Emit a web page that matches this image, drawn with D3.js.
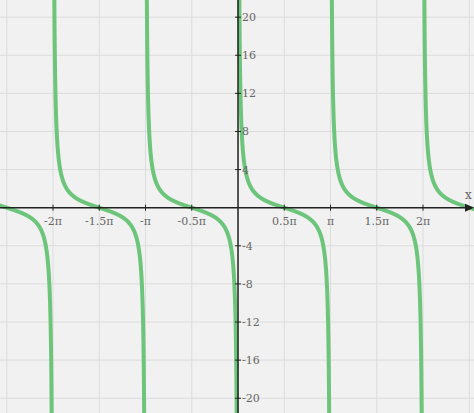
<!DOCTYPE html><html><head><meta charset="utf-8">
<script src="https://cdn.jsdelivr.net/npm/d3@7"></script>
<style>body{margin:0;background:#f1f1f1}svg{display:block}</style></head><body>
<svg id="c" width="474" height="413"></svg>
<script>
const xTicks=[-2,-1.5,-1,-0.5,0.5,1,1.5,2];
const xTickLabels=["-2π","-1.5π","-π","-0.5π","0.5π","π","1.5π","2π"];
const yTicks=[-20,-16,-12,-8,-4,4,8,12,16,20];
const branches=[-3,-2,-1,0,1,2]; // branch k spans (kπ, (k+1)π)
const W=474,H=413;
const x=d3.scaleLinear().domain([-2.573,2.551]).range([0,W]);
const y=d3.scaleLinear().domain([21.8,-21.55]).range([0,H]);
const svg=d3.select("#c");
svg.append("rect").attr("width",W).attr("height",H).attr("fill","#f1f1f1");
const g=svg.append("g");
// grid
d3.range(-2.5,2.51,0.5).forEach(v=>g.append("line").attr("x1",x(v)).attr("x2",x(v)).attr("y1",0).attr("y2",H).attr("stroke","#dcdcdc").attr("stroke-width",1));
d3.range(-20,21,4).forEach(v=>g.append("line").attr("y1",y(v)).attr("y2",y(v)).attr("x1",0).attr("x2",W).attr("stroke","#dcdcdc").attr("stroke-width",1));
// curves
const line=d3.line().x(d=>x(d[0])).y(d=>y(d[1]));
branches.forEach(k=>{
  const pts=[];
  for(let i=1;i<1000;i++){const t=k+i/1000;const v=1/Math.tan(t*Math.PI);
    if(v>23||v<-23)continue; if(t<-2.6||t>2.6)continue; pts.push([t,v]);}
  g.append("path").attr("d",line(pts)).attr("fill","none").attr("stroke","#6cc57a").attr("stroke-width",4);
});
// axes
g.append("line").attr("x1",0).attr("x2",W-6).attr("y1",y(0)).attr("y2",y(0)).attr("stroke","#222").attr("stroke-width",1.5);
g.append("path").attr("d",`M${W},${y(0)} l-9,-4 l0,8 z`).attr("fill","#222");
g.append("line").attr("x1",x(0)).attr("x2",x(0)).attr("y1",0).attr("y2",H).attr("stroke","#222").attr("stroke-width",1.5);
xTicks.forEach((v,i)=>{
  g.append("line").attr("x1",x(v)).attr("x2",x(v)).attr("y1",y(0)-3).attr("y2",y(0)+3).attr("stroke","#222");
  g.append("text").attr("x",x(v)).attr("y",y(0)+17).attr("text-anchor","middle").attr("font-family","DejaVu Serif").attr("font-size",11).attr("fill","#666").text(xTickLabels[i]);
});
yTicks.forEach(v=>{
  g.append("line").attr("x1",x(0)-3).attr("x2",x(0)+3).attr("y1",y(v)).attr("y2",y(v)).attr("stroke","#222");
  g.append("text").attr("x",x(0)+4).attr("y",y(v)+4).attr("font-family","DejaVu Serif").attr("font-size",11).attr("fill","#666").text(v);
});
g.append("text").attr("x",W-9).attr("y",y(0)-9).attr("font-family","DejaVu Serif").attr("font-size",12).attr("fill","#666").text("x");
</script></body></html>
